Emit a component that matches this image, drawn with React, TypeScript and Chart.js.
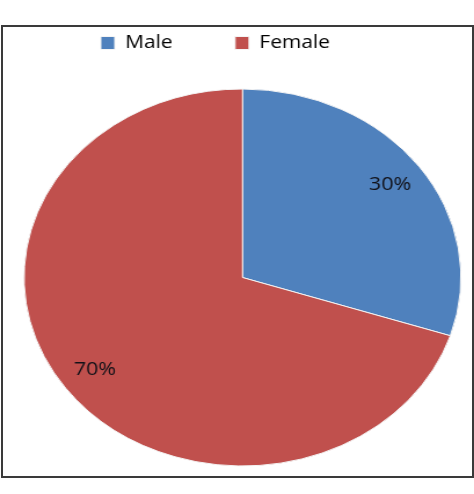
import React, { useEffect, useRef } from "react";
import { Chart, registerables } from "chart.js";

Chart.register(...registerables);

const categories = ["Male", "Female"];
const shares = [30, 70];
const sliceColors = ["#4F81BD", "#C0504D"];
const sliceLabels = ["30%", "70%"];

const STRETCH = 1.159;

const pieLabelPlugin = {
  id: "pieLabels",
  afterDatasetsDraw(chart: any) {
    const ctx = chart.ctx;
    const meta = chart.getDatasetMeta(0);
    ctx.save();
    ctx.font = "18.5px 'Open Sans'";
    ctx.fillStyle = "#111118";
    ctx.textAlign = "center";
    ctx.textBaseline = "middle";
    meta.data.forEach((arc: any, i: number) => {
      const { x, y, startAngle, endAngle, outerRadius } = arc.getProps(
        ["x", "y", "startAngle", "endAngle", "outerRadius"],
        true
      );
      const mid = (startAngle + endAngle) / 2;
      const r = outerRadius * 0.835;
      ctx.fillText(sliceLabels[i], x + Math.cos(mid) * r, y + Math.sin(mid) * r);
    });
    ctx.restore();
  },
};

function PieChart() {
  const ref = useRef<HTMLCanvasElement>(null);
  useEffect(() => {
    if (!ref.current) return;
    const chart = new Chart(ref.current, {
      type: "pie",
      data: {
        labels: categories,
        datasets: [
          {
            data: shares,
            backgroundColor: sliceColors,
            borderColor: "#f4f4f4",
            borderWidth: 1,
            radius: 188.5,
          } as any,
        ],
      },
      options: {
        animation: false,
        responsive: true,
        maintainAspectRatio: false,
        layout: { padding: { left: 33, right: 23.5, top: 0, bottom: 11 } },
        plugins: {
          legend: {
            position: "top",
            align: "start",
            labels: {
              boxWidth: 12,
              boxHeight: 13,
              padding: 54,
              color: "#000000",
              font: { family: "'Open Sans'", size: 18 },
            },
          },
          tooltip: { enabled: false },
        },
      },
      plugins: [pieLabelPlugin],
    });
    return () => chart.destroy();
  }, []);
  return <canvas ref={ref} />;
}

export default function App() {
  return (
    <div
      style={{
        position: "absolute",
        left: 0,
        top: 0,
        width: 474,
        height: 494,
        overflow: "hidden",
        background: "#ffffff",
      }}
    >
      <div
        style={{
          position: "absolute",
          left: 1,
          top: 25,
          width: 469,
          height: 449,
          border: "2px solid #3a3a3a",
        }}
      />
      <div
        style={{
          position: "absolute",
          left: 0,
          top: -20,
          width: 409,
          height: 524,
          transform: `scaleX(${STRETCH})`,
          transformOrigin: "0 0",
        }}
      >
        <PieChart />
      </div>
    </div>
  );
}
